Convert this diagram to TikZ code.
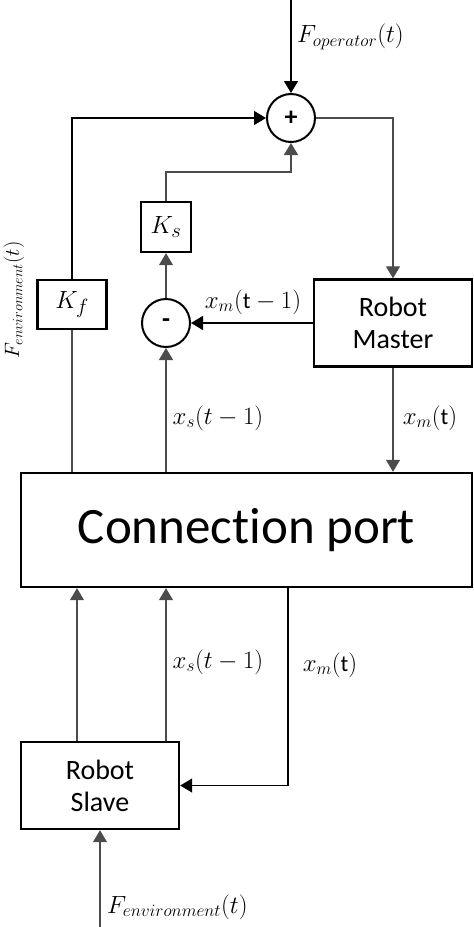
\documentclass[tikz,border=0pt]{standalone}
\usepackage{fontspec}
\setmainfont{Carlito}[Ligatures=CommonOff]
\usepackage{amsmath}
\usetikzlibrary{arrows.meta,positioning,calc}

\begin{document}
\begin{tikzpicture}[
	x=1pt, y=-1pt,
	>={Triangle[length=12pt,width=14pt]},
	bloco/.style={rectangle, draw=black, line width=2.4pt, fill=white, align=center, inner sep=0pt},
	circ/.style={circle, draw=black, line width=2pt, minimum size=48pt, inner sep=0pt, font=\fontsize{26}{28}\selectfont\bfseries},
	seta/.style={->, line width=1.3pt, black!70},
	rot/.style={font=\fontsize{23}{26}\selectfont, inner sep=1pt},
]
\useasboundingbox (0,0) rectangle (474,927);
% Blocos principais
\node[circ] (sum) at (291,118) {+};
\node[bloco, minimum width=50pt, minimum height=50pt, font=\fontsize{29}{30}\selectfont] (ks) at (166,227) {$K_s$};
\node[circ] (dif) at (166,323) {-};
\node[bloco, minimum width=69pt, minimum height=49pt, font=\fontsize{29}{30}\selectfont] (kf) at (72,304.5) {$K_f$};
\node[bloco, minimum width=158pt, minimum height=87pt, font=\fontsize{28}{32}\selectfont] (master) at (393,323) {Robot\\Master};
\node[bloco, minimum width=451pt, minimum height=114pt, font=\fontsize{51}{54}\selectfont] (port) at (246.5,530) {Connection port};
\node[bloco, minimum width=158pt, minimum height=87pt, font=\fontsize{28}{32}\selectfont] (slave) at (100,785.5) {Robot\\Slave};
% Entradas externas
\coordinate (fop) at (291,0);
\coordinate (fenv) at (100,927);
\coordinate (kn) at (291,172);
% Ligações superiores
\draw[seta, black] (fop) -- (sum.north);
\draw[line width=1.3pt, black!70] (port.north -| kf) -- (kf.south);
\draw[seta, black] (kf.north) |- (sum.west);
\draw[seta] (sum.east) -| (master.north);
\draw[seta] (ks.north) |- (kn) -- (sum.south);
\draw[seta] (dif.north) -- (ks.south);
\draw[seta, black] (master.west) -- (dif.east);
\draw[seta] (port.north -| dif) -- (dif.south);
\draw[seta] (master.south) -- (port.north -| master.south);
% Ligações inferiores
\draw[seta] ([xshift=-23pt]slave.north) -- ([xshift=-23pt]slave.north |- port.south);
\draw[seta] (slave.north -| dif) -- (port.south -| dif);
\draw[seta, black] ([xshift=41.5pt]port.south) |- (slave.east);
\draw[seta] (fenv) -- (slave.south);
% Rótulos
\node[rot, anchor=west] (lop) at (296,37) {$F_{operator}(t)$};
\node[rot, rotate=90, font=\fontsize{21}{24}\selectfont] (lenv) at (14,300) {$F_{environment}(t)$};
\node[rot] (lxm1) at (253,302) {$x_m(\mathrm{t}-1)$};
\node[rot] (lxs1) at (218,418) {$x_s(t-1)$};
\node[rot] (lxm) at (430,418) {$x_m(\mathrm{t})$};
\node[rot] (lxs2) at (218,662) {$x_s(t-1)$};
\node[rot] (lxm2) at (330,665) {$x_m(\mathrm{t})$};
\node[rot, anchor=west] (lenv2) at (106,907) {$F_{environment}(t)$};
\end{tikzpicture}
\end{document}
